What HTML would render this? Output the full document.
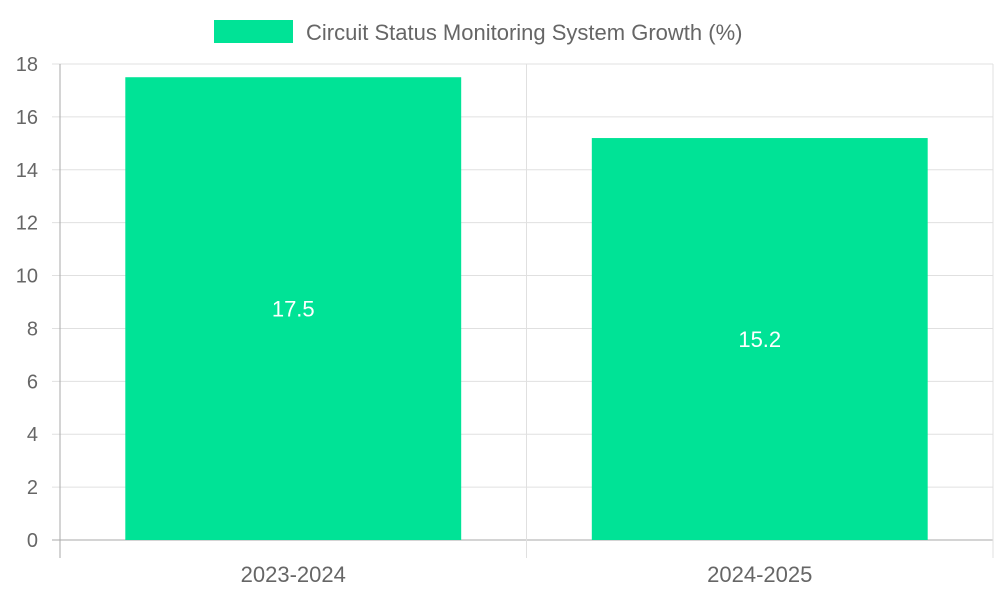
<!DOCTYPE html>
<html><head><meta charset="utf-8"><style>
html,body{margin:0;padding:0;background:#fff;}
svg{display:block;font-family:"Liberation Sans",sans-serif;}
</style></head><body>
<svg id="chart" width="1000" height="600">
<g id="legend">
<rect x="214" y="20" width="79" height="23" fill="#00E396"></rect>
<text x="306" y="40" font-size="22" fill="#666">Circuit Status Monitoring System Growth (%)</text>
</g>
<g id="grid"></g><g id="bars"></g><g id="axes"></g>
</svg>
<script>
const categories = ["2023-2024", "2024-2025"];
const values = [17.5, 15.2];
const yTicks = [0, 2, 4, 6, 8, 10, 12, 14, 16, 18];
const yMax = 18;

const L = 60, R = 993, T = 64, B = 540;
const NS = "http://www.w3.org/2000/svg";
function y(v){ return B - (v / yMax) * (B - T); }
const band = (R - L) / categories.length;
function xc(i){ return L + band * (i + 0.5); }
function mk(tag, attrs, parent){
  const e = document.createElementNS(NS, tag);
  for (const k in attrs) e.setAttribute(k, attrs[k]);
  parent.appendChild(e); return e;
}
const grid = document.getElementById("grid");
const bars = document.getElementById("bars");
const axes = document.getElementById("axes");

yTicks.forEach(t => {
  const l = mk("line", {x1: 52, x2: R, y1: y(t), y2: y(t), stroke: t === 0 ? "#aaa" : "#e0e0e0", "stroke-width": 1}, grid);
  
  
  const tx = mk("text", {x: 38, y: y(t) + 7, "text-anchor": "end", "font-size": 20, fill: "#666"}, axes);
  tx.textContent = t;
  
  
});
for (let i = 0; i <= categories.length; i++) {
  const x = L + band * i;
  const l = mk("line", {x1: x, x2: x, y1: T, y2: 558, stroke: i === 0 ? "#aaa" : "#e0e0e0", "stroke-width": 1}, grid);
  
  
}
categories.forEach((c, i) => {
  const w = band * 0.72;
  const r = mk("rect", {x: xc(i) - w / 2, y: y(values[i]), width: w, height: B - y(values[i]), fill: "#00E396"}, bars);
  
  
  const v = mk("text", {x: xc(i), y: (y(values[i]) + B) / 2 + 8, "text-anchor": "middle", "font-size": 22, fill: "#fff"}, bars);
  v.textContent = values[i];
  
  
  const xl = mk("text", {x: xc(i), y: 582, "text-anchor": "middle", "font-size": 22, fill: "#666"}, axes);
  xl.textContent = c;
  
  
});
</script>
</body></html>
